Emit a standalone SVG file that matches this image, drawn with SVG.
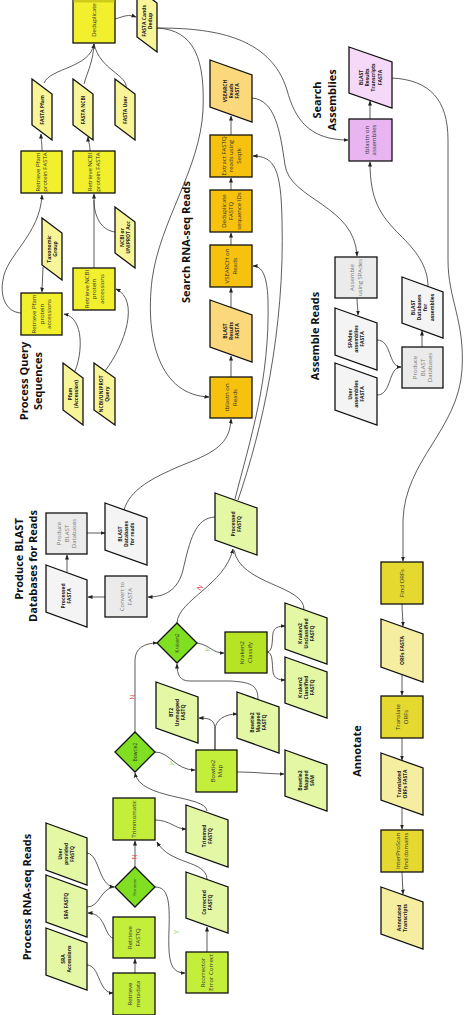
<svg xmlns="http://www.w3.org/2000/svg" width="474" height="1015" viewBox="0 0 474 1015">
<defs>
<marker id="ah" viewBox="0 0 10 10" refX="9" refY="5" markerWidth="5" markerHeight="5" orient="auto" markerUnits="userSpaceOnUse"><path d="M0,1 L10,5 L0,9 z" fill="#222"/></marker>
<style>
.s{stroke:#111;stroke-width:1.3}
.yb{fill:#f2f02c}.yp{fill:#f7f597}
.ob{fill:#f7c20e}.op{fill:#fbd87b}
.pb{fill:#e8b5f0}.pp{fill:#f6d9f8}
.gb{fill:#ebebeb}.gp{fill:#f4f4f4}
.lb{fill:#c3ee3a}.lk{fill:#b6e424}.lp{fill:#e3f7a4}.ld{fill:#7fdf20}
.ab{fill:#e5d82e}.ap{fill:#f5eea0}
text{font-family:"Open Sans","Liberation Sans",sans-serif;text-anchor:middle}
.bt{font-size:6px;fill:#333}
.gt{font-size:6px;fill:#777}
.pt{font-size:5px;font-weight:bold;fill:#222}
.dt{font-size:5px;fill:#333}
.tt{font-size:11px;font-weight:bold;fill:#111}
.ln{font-size:7px}
.n{fill:#e23a3a}.y{fill:#8fd24f}
.c path{fill:none;stroke:#333;stroke-width:0.8}
</style>
</defs>
<rect width="474" height="1015" fill="#fff"/>

<g id="titles">
<text class="tt" transform="translate(27.5,381) rotate(-90)">Process Query</text>
<text class="tt" transform="translate(41.5,381) rotate(-90)">Sequences</text>
<text class="tt" transform="translate(23,559) rotate(-90)">Produce BLAST</text>
<text class="tt" transform="translate(37,566) rotate(-90)">Databases for Reads</text>
<text class="tt" transform="translate(31,897) rotate(-90)">Process RNA-seq Reads</text>
<text class="tt" transform="translate(190,242) rotate(-90)">Search RNA-seq Reads</text>
<text class="tt" transform="translate(321,100) rotate(-90)">Search</text>
<text class="tt" transform="translate(336,100) rotate(-90)">Assemblies</text>
<text class="tt" transform="translate(319,336) rotate(-90)">Assemble Reads</text>
<text class="tt" transform="translate(361,751) rotate(-90)">Annotate</text>
</g>

<g class="c" id="connectors">
<path d="M115,19 C125,16 128,14 136,17" marker-end="url(#ah)"/>
<path d="M44,83 C50,68 90,68 94,44" marker-end="url(#ah)"/>
<path d="M84,84 C88,70 93,62 94,44"/>
<path d="M126,88 C128,75 100,70 94,44"/>
<path d="M42,151 C42,142 41,140 41,134" marker-end="url(#ah)"/>
<path d="M90,151 C90,144 88,141 88,137" marker-end="url(#ah)"/>
<path d="M94,268 L94,194" marker-end="url(#ah)"/>
<path d="M115,232 C100,230 94,215 94,200"/>
<path d="M21,313 C5,312 0,295 3,280 C6,255 40,235 42,195" marker-end="url(#ah)"/>
<path d="M43,267 L42,292" marker-end="url(#ah)"/>
<path d="M75,371 C82,355 85,318 64,314" marker-end="url(#ah)"/>
<path d="M105,371 C125,345 140,300 116,289" marker-end="url(#ah)"/>
<path d="M157,28 C195,30 205,60 203,110 C200,170 160,220 152,280 C145,340 160,395 209,397" marker-end="url(#ah)"/>
<path d="M157,28 C210,28 270,35 287,90 C295,120 310,140 348,140" marker-end="url(#ah)"/>
<path d="M231,135 L231,116" marker-end="url(#ah)"/>
<path d="M231,190 L231,178" marker-end="url(#ah)"/>
<path d="M231,245 L231,233" marker-end="url(#ah)"/>
<path d="M231,307 L231,288" marker-end="url(#ah)"/>
<path d="M231,377 L231,356" marker-end="url(#ah)"/>
<path d="M252,98 C275,100 280,130 285,165 C290,200 355,205 357,256" marker-end="url(#ah)"/>
<path d="M235,499 C250,440 270,380 268,300 C267,275 262,266 253,266" marker-end="url(#ah)"/>
<path d="M238,500 C262,430 285,330 282,220 C281,170 275,156 253,156" marker-end="url(#ah)"/>
<path d="M124,510 C130,490 150,478 190,462 C220,450 230,440 231,419" marker-end="url(#ah)"/>
<path d="M215,517 C195,518 190,540 183,570 C178,590 165,597 148,597" marker-end="url(#ah)"/>
<path d="M105,597 L88,597" marker-end="url(#ah)"/>
<path d="M67,572 L67,555" marker-end="url(#ah)"/>
<path d="M87,533 L105,533" marker-end="url(#ah)"/>
<path d="M177,623 C178,600 225,585 233,549" marker-end="url(#ah)"/>
<path d="M304,610 C305,585 240,585 234,550"/>
<path d="M197,643 C210,645 212,653 224,653" marker-end="url(#ah)"/>
<path d="M267,652 C273,652 272,640 273,633 C274,628 278,626 285,626" marker-end="url(#ah)"/>
<path d="M267,652 C273,652 272,664 273,672 C274,678 278,680 285,680" marker-end="url(#ah)"/>
<path d="M258,699 C258,685 250,682 230,681 L190,681 C180,681 177,675 177,664" marker-end="url(#ah)"/>
<path d="M135,732 L135,660 C135,648 145,643 157,643" marker-end="url(#ah)"/>
<path d="M155,752 C170,752 175,770 195,770" marker-end="url(#ah)"/>
<path d="M215,750 L215,730 C215,720 210,718 199,718" marker-end="url(#ah)"/>
<path d="M215,750 L215,730 C215,720 225,714 237,714" marker-end="url(#ah)"/>
<path d="M237,772 C255,772 270,774 284,774" marker-end="url(#ah)"/>
<path d="M207,811 C206,795 140,800 135,773" marker-end="url(#ah)"/>
<path d="M135,867 L135,841" marker-end="url(#ah)"/>
<path d="M155,887 C168,887 170,900 169,930 C168,960 170,973 185,973" marker-end="url(#ah)"/>
<path d="M207,952 L207,927" marker-end="url(#ah)"/>
<path d="M207,879 C206,860 170,865 157,842" marker-end="url(#ah)"/>
<path d="M155,820 C170,820 175,829 186,829" marker-end="url(#ah)"/>
<path d="M87,853 C100,855 98,885 114,887" marker-end="url(#ah)"/>
<path d="M87,907 C100,907 100,889 114,887"/>
<path d="M113,938 C104,936 106,913 88,913" marker-end="url(#ah)"/>
<path d="M87,965 C100,965 98,993 113,993" marker-end="url(#ah)"/>
<path d="M135,973 L135,959" marker-end="url(#ah)"/>
<path d="M370,119 L370,101" marker-end="url(#ah)"/>
<path d="M392,78 C430,80 448,100 448,140 L448,260 C448,300 465,320 462,370 C458,430 405,460 403,520 L403,561" marker-end="url(#ah)"/>
<path d="M428,287 C428,265 415,250 400,235 C380,215 370,200 370,162" marker-end="url(#ah)"/>
<path d="M377,340 C392,340 388,367 401,367" marker-end="url(#ah)"/>
<path d="M377,395 C392,395 388,367 401,367"/>
<path d="M422,347 L422,331" marker-end="url(#ah)"/>
<path d="M357,298 C357,305 358,308 358,315" marker-end="url(#ah)"/>
<path d="M402,604 C402,612 403,618 403,626" marker-end="url(#ah)"/>
<path d="M402,675 L402,695" marker-end="url(#ah)"/>
<path d="M402,738 L402,760" marker-end="url(#ah)"/>
<path d="M402,808 L402,829" marker-end="url(#ah)"/>
<path d="M402,872 L403,894" marker-end="url(#ah)"/>
</g>

<g id="labels" class="ln">
<text class="ln n" transform="translate(202,589) rotate(-55)">N</text>
<text class="ln y" transform="translate(210,651) rotate(-70)">Y</text>
<text class="ln n" transform="translate(135,697) rotate(-90)">N</text>
<text class="ln y" transform="translate(174,765) rotate(-60)">Y</text>
<text class="ln n" transform="translate(137,857) rotate(-90)">N</text>
<text class="ln y" transform="translate(179,932) rotate(-90)">Y</text>
</g>

<!-- Query sequences -->
<g id="dedup"><rect class="s yb" x="73" y="-5" width="42" height="48"/><rect x="73.6" y="0" width="40.8" height="2.5" fill="#cfcb1c"/><text class="bt" transform="translate(94,20) rotate(-90)"><tspan x="0" y="2.1">Deduplicate</tspan></text></g>
<g id="cands"><polygon class="s yp" points="137,-12 157,3 157,52 137,37"/><text class="pt" transform="translate(147,21) rotate(-90)"><tspan x="0" y="-1.35">FASTA Cands</tspan><tspan x="0" y="4.85">Dedup</tspan></text></g>
<g id="fpfam"><polygon class="s yp" points="32,79 52,94 52,140 32,125"/><text class="pt" transform="translate(42,110) rotate(-90)"><tspan x="0" y="1.75">FASTA Pfam</tspan></text></g>
<g id="fncbi"><polygon class="s yp" points="73,79 93,94 93,140 73,125"/><text class="pt" transform="translate(83,110) rotate(-90)"><tspan x="0" y="1.75">FASTA NCBI</tspan></text></g>
<g id="fuser"><polygon class="s yp" points="115,79 135,94 135,140 115,125"/><text class="pt" transform="translate(125,110) rotate(-90)"><tspan x="0" y="1.75">FASTA User</tspan></text></g>
<g id="rpfamfa"><rect class="s yb" x="21" y="151" width="41" height="42"/><text class="bt" transform="translate(41.5,172) rotate(-90)"><tspan x="0" y="-1.65">Retrieve Pfam</tspan><tspan x="0" y="5.85">protein FASTA</tspan></text></g>
<g id="rncbifa"><rect class="s yb" x="73" y="151" width="42" height="42"/><text class="bt" transform="translate(94,172) rotate(-90)"><tspan x="0" y="-1.65">Retrieve NCBI</tspan><tspan x="0" y="5.85">protein FASTA</tspan></text></g>
<g id="ncbiacc"><polygon class="s yp" points="115,207 135,222 135,268 115,253"/><text class="pt" transform="translate(125,237.5) rotate(-90)"><tspan x="0" y="-1.35">NCBI or</tspan><tspan x="0" y="4.85">UNIPROT Acc</tspan></text></g>
<g id="taxo"><polygon class="s yp" points="42,218 62,233 62,280 42,265"/><text class="pt" transform="translate(52,249) rotate(-90)"><tspan x="0" y="-1.35">Taxonomic</tspan><tspan x="0" y="4.85">Group</tspan></text></g>
<g id="rpfamacc"><rect class="s yb" x="21" y="293" width="41" height="42"/><text class="bt" transform="translate(41.5,314) rotate(-90)"><tspan x="0" y="-5.4">Retrieve Pfam</tspan><tspan x="0" y="2.1">protein</tspan><tspan x="0" y="9.6">accessions</tspan></text></g>
<g id="rncbiacc"><rect class="s yb" x="73" y="268" width="42" height="42"/><text class="bt" transform="translate(94,289) rotate(-90)"><tspan x="0" y="-5.4">Retrieve NCBI</tspan><tspan x="0" y="2.1">protein</tspan><tspan x="0" y="9.6">accessions</tspan></text></g>
<g id="pfamin"><polygon class="s yp" points="63,363 83,378 83,425 63,410"/><text class="pt" transform="translate(73,394) rotate(-90)"><tspan x="0" y="-1.35">Pfam</tspan><tspan x="0" y="4.85">(Accession)</tspan></text></g>
<g id="ncbiq"><polygon class="s yp" points="94,363 115,378 115,425 94,410"/><text class="pt" transform="translate(104.5,394) rotate(-90)"><tspan x="0" y="-1.35">NCBI/UNIPROT</tspan><tspan x="0" y="4.85">Query</tspan></text></g>

<!-- Search RNA-seq reads -->
<g id="vsrfa"><polygon class="s op" points="210,60 252,75 252,122 210,107"/><text class="pt" transform="translate(231,91) rotate(-90)"><tspan x="0" y="-4.45">VSEARCH</tspan><tspan x="0" y="1.75">Reads</tspan><tspan x="0" y="7.95">FASTA</tspan></text></g>
<g id="extract"><rect class="s ob" x="210" y="135" width="42" height="42"/><text class="bt" transform="translate(231,156) rotate(-90)"><tspan x="0" y="-5.4">Extract FASTQ</tspan><tspan x="0" y="2.1">reads using</tspan><tspan x="0" y="9.6">Seqtk</tspan></text></g>
<g id="dedupq"><rect class="s ob" x="210" y="190" width="42" height="42"/><text class="bt" transform="translate(231,211) rotate(-90)"><tspan x="0" y="-5.4">Deduplicate</tspan><tspan x="0" y="2.1">FASTQ</tspan><tspan x="0" y="9.6">sequence IDs</tspan></text></g>
<g id="vsr"><rect class="s ob" x="210" y="245" width="42" height="42"/><text class="bt" transform="translate(231,266) rotate(-90)"><tspan x="0" y="-1.65">VSEARCH on</tspan><tspan x="0" y="5.85">Reads</tspan></text></g>
<g id="brfa"><polygon class="s op" points="210,300 252,315 252,362 210,347"/><text class="pt" transform="translate(231,331) rotate(-90)"><tspan x="0" y="-4.45">BLAST</tspan><tspan x="0" y="1.75">Results</tspan><tspan x="0" y="7.95">FASTA</tspan></text></g>
<g id="tbr"><rect class="s ob" x="210" y="377" width="42" height="41"/><text class="bt" transform="translate(231,397.5) rotate(-90)"><tspan x="0" y="-1.65">tblastn on</tspan><tspan x="0" y="5.85">Reads</tspan></text></g>

<!-- Search assemblies -->
<g id="brt"><polygon class="s pp" points="349,47 392,62 392,108 349,93"/><text class="pt" transform="translate(370.5,77.5) rotate(-90)"><tspan x="0" y="-7.55">BLAST</tspan><tspan x="0" y="-1.35">Results</tspan><tspan x="0" y="4.85">Transcripts</tspan><tspan x="0" y="11.05">FASTA</tspan></text></g>
<g id="tba"><rect class="s pb" x="349" y="119" width="43" height="42"/><text class="bt" transform="translate(370.5,140) rotate(-90)"><tspan x="0" y="-1.65">tblastn on</tspan><tspan x="0" y="5.85">assemblies</tspan></text></g>

<!-- Assemble reads -->
<g id="spades"><rect class="s gb" x="335" y="257" width="42" height="41"/><text class="gt" transform="translate(356,277.5) rotate(-90)"><tspan x="0" y="-1.65">Assemble</tspan><tspan x="0" y="5.85">using SPAdes</tspan></text></g>
<g id="spa"><polygon class="s gp" points="335,308 377,323 377,370 335,355"/><text class="pt" transform="translate(356,339) rotate(-90)"><tspan x="0" y="-4.45">SPAdes</tspan><tspan x="0" y="1.75">assemblies</tspan><tspan x="0" y="7.95">FASTA</tspan></text></g>
<g id="uas"><polygon class="s gp" points="335,363 377,378 377,425 335,410"/><text class="pt" transform="translate(356,394) rotate(-90)"><tspan x="0" y="-4.45">User</tspan><tspan x="0" y="1.75">assemblies</tspan><tspan x="0" y="7.95">FASTA</tspan></text></g>
<g id="pbda"><rect class="s gb" x="402" y="347" width="41" height="41"/><text class="gt" transform="translate(422.5,367.5) rotate(-90)"><tspan x="0" y="-5.4">Produce</tspan><tspan x="0" y="2.1">BLAST</tspan><tspan x="0" y="9.6">Databases</tspan></text></g>
<g id="bdba"><polygon class="s gp" points="402,277 443,292 443,338 402,323"/><text class="pt" transform="translate(422.5,307.5) rotate(-90)"><tspan x="0" y="-7.55">BLAST</tspan><tspan x="0" y="-1.35">Databases</tspan><tspan x="0" y="4.85">for</tspan><tspan x="0" y="11.05">assemblies</tspan></text></g>

<!-- BLAST DBs for reads -->
<g id="pbdr"><rect class="s gb" x="46" y="513" width="41" height="41"/><text class="gt" transform="translate(66.5,533.5) rotate(-90)"><tspan x="0" y="-5.4">Produce</tspan><tspan x="0" y="2.1">BLAST</tspan><tspan x="0" y="9.6">Databases</tspan></text></g>
<g id="bdbr"><polygon class="s gp" points="105,503 147,518 147,565 105,550"/><text class="pt" transform="translate(126,534) rotate(-90)"><tspan x="0" y="-4.45">BLAST</tspan><tspan x="0" y="1.75">Databases</tspan><tspan x="0" y="7.95">for reads</tspan></text></g>
<g id="pfa"><polygon class="s gp" points="46,565 87,580 87,627 46,612"/><text class="pt" transform="translate(66.5,596) rotate(-90)"><tspan x="0" y="-1.35">Processed</tspan><tspan x="0" y="4.85">FASTA</tspan></text></g>
<g id="conv"><rect class="s gb" x="105" y="576" width="42" height="41"/><text class="gt" transform="translate(126,596.5) rotate(-90)"><tspan x="0" y="-1.65">Convert to</tspan><tspan x="0" y="5.85">FASTA</tspan></text></g>

<!-- Process RNA-seq reads -->
<g id="pfq"><polygon class="s lp" points="215,493 257,508 257,555 215,540"/><text class="pt" transform="translate(236,524) rotate(-90)"><tspan x="0" y="-1.35">Processed</tspan><tspan x="0" y="4.85">FASTQ</tspan></text></g>
<g id="k2d"><polygon class="s ld" points="177,623 197,643 177,663 157,643"/><text class="dt" transform="translate(177,643) rotate(-90)"><tspan x="0" y="1.75">Kraken2</tspan></text></g>
<g id="k2c"><rect class="s lk" x="225" y="632" width="42" height="41"/><text class="bt" transform="translate(246,652.5) rotate(-90)"><tspan x="0" y="-1.65">Kraken2</tspan><tspan x="0" y="5.85">Classify</tspan></text></g>
<g id="k2un"><polygon class="s lp" points="285,603 327,618 327,664 285,649"/><text class="pt" transform="translate(306,633.5) rotate(-90)"><tspan x="0" y="-4.45">Kraken2</tspan><tspan x="0" y="1.75">Unclassified</tspan><tspan x="0" y="7.95">FASTQ</tspan></text></g>
<g id="k2cl"><polygon class="s lp" points="285,657 327,672 327,718 285,703"/><text class="pt" transform="translate(306,687.5) rotate(-90)"><tspan x="0" y="-4.45">Kraken2</tspan><tspan x="0" y="1.75">Classified</tspan><tspan x="0" y="7.95">FASTQ</tspan></text></g>
<g id="bt2u"><polygon class="s lp" points="156,682 198,697 198,743 156,728"/><text class="pt" transform="translate(177,712.5) rotate(-90)"><tspan x="0" y="-4.45">BT2</tspan><tspan x="0" y="1.75">Unmapped</tspan><tspan x="0" y="7.95">FASTQ</tspan></text></g>
<g id="bt2m"><polygon class="s lp" points="237,692 279,707 279,753 237,738"/><text class="pt" transform="translate(258,722.5) rotate(-90)"><tspan x="0" y="-4.45">Bowtie2</tspan><tspan x="0" y="1.75">Mapped</tspan><tspan x="0" y="7.95">FASTQ</tspan></text></g>
<g id="bt2d"><polygon class="s ld" points="135,732 155,752 135,772 115,752"/><text class="dt" transform="translate(135,752) rotate(-90)"><tspan x="0" y="1.75">Bowtie2</tspan></text></g>
<g id="bt2map"><rect class="s lb" x="196" y="750" width="41" height="42"/><text class="bt" transform="translate(216.5,771) rotate(-90)"><tspan x="0" y="-1.65">Bowtie2</tspan><tspan x="0" y="5.85">Map</tspan></text></g>
<g id="sam"><polygon class="s lp" points="285,750 327,765 327,811 285,796"/><text class="pt" transform="translate(306,780.5) rotate(-90)"><tspan x="0" y="-4.45">Bowtie2</tspan><tspan x="0" y="1.75">Mapped</tspan><tspan x="0" y="7.95">SAM</tspan></text></g>
<g id="trim"><rect class="s lb" x="113" y="798" width="42" height="42"/><text class="bt" transform="translate(134,819) rotate(-90)"><tspan x="0" y="2.1">Trimmomatic</tspan></text></g>
<g id="trq"><polygon class="s lp" points="186,805 228,820 228,867 186,852"/><text class="pt" transform="translate(207,836) rotate(-90)"><tspan x="0" y="-1.35">Trimmed</tspan><tspan x="0" y="4.85">FASTQ</tspan></text></g>
<g id="rcd"><polygon class="s ld" points="135,867 155,887 135,907 115,887"/><text class="dt" style="font-size:3.5px" transform="translate(135,887) rotate(-90)"><tspan x="0" y="1.2">Rcorrector</tspan></text></g>
<g id="corq"><polygon class="s lp" points="186,872 228,887 228,933 186,918"/><text class="pt" transform="translate(207,902.5) rotate(-90)"><tspan x="0" y="-1.35">Corrected</tspan><tspan x="0" y="4.85">FASTQ</tspan></text></g>
<g id="rcor"><rect class="s lb" x="186" y="952" width="42" height="41"/><text class="bt" transform="translate(207,972.5) rotate(-90)"><tspan x="0" y="-1.65">Rcorrector</tspan><tspan x="0" y="5.85">Error Correct</tspan></text></g>
<g id="upq"><polygon class="s lp" points="46,823 87,838 87,885 46,870"/><text class="pt" transform="translate(66.5,854) rotate(-90)"><tspan x="0" y="-4.45">User</tspan><tspan x="0" y="1.75">provided</tspan><tspan x="0" y="7.95">FASTQ</tspan></text></g>
<g id="sraq"><polygon class="s lp" points="46,875 87,890 87,937 46,922"/><text class="pt" transform="translate(66.5,906) rotate(-90)"><tspan x="0" y="1.75">SRA FASTQ</tspan></text></g>
<g id="sraa"><polygon class="s lp" points="46,928 87,943 87,990 46,975"/><text class="pt" transform="translate(66.5,959) rotate(-90)"><tspan x="0" y="-1.35">SRA</tspan><tspan x="0" y="4.85">Accessions</tspan></text></g>
<g id="rfq"><rect class="s lb" x="113" y="917" width="42" height="41"/><text class="bt" transform="translate(134,937.5) rotate(-90)"><tspan x="0" y="-1.65">Retrieve</tspan><tspan x="0" y="5.85">FASTQ</tspan></text></g>
<g id="rmeta"><rect class="s lb" x="113" y="973" width="42" height="42"/><text class="bt" transform="translate(134,994) rotate(-90)"><tspan x="0" y="-1.65">Retrieve</tspan><tspan x="0" y="5.85">metadata</tspan></text></g>

<!-- Annotate -->
<g id="forf"><rect class="s ab" x="381" y="562" width="42" height="42"/><text class="bt" transform="translate(402,583) rotate(-90)"><tspan x="0" y="2.1">Find ORFs</tspan></text></g>
<g id="orfa"><polygon class="s ap" points="381,619 423,634 423,682 381,667"/><text class="pt" transform="translate(402,650.5) rotate(-90)"><tspan x="0" y="1.75">ORFs FASTA</tspan></text></g>
<g id="trorf"><rect class="s ab" x="381" y="696" width="42" height="42"/><text class="bt" transform="translate(402,717) rotate(-90)"><tspan x="0" y="-1.65">Translate</tspan><tspan x="0" y="5.85">ORFs</tspan></text></g>
<g id="torf"><polygon class="s ap" points="381,753 423,768 423,815 381,800"/><text class="pt" transform="translate(402,784) rotate(-90)"><tspan x="0" y="-1.35">Translated</tspan><tspan x="0" y="4.85">ORFs FASTA</tspan></text></g>
<g id="ips"><rect class="s ab" x="381" y="830" width="42" height="42"/><text class="bt" transform="translate(402,851) rotate(-90)"><tspan x="0" y="-1.65">InterProScan</tspan><tspan x="0" y="5.85">find domains</tspan></text></g>
<g id="ann"><polygon class="s ap" points="381,887 423,902 423,949 381,934"/><text class="pt" transform="translate(402,918) rotate(-90)"><tspan x="0" y="-1.35">Annotated</tspan><tspan x="0" y="4.85">Transcripts</tspan></text></g>
</svg>
